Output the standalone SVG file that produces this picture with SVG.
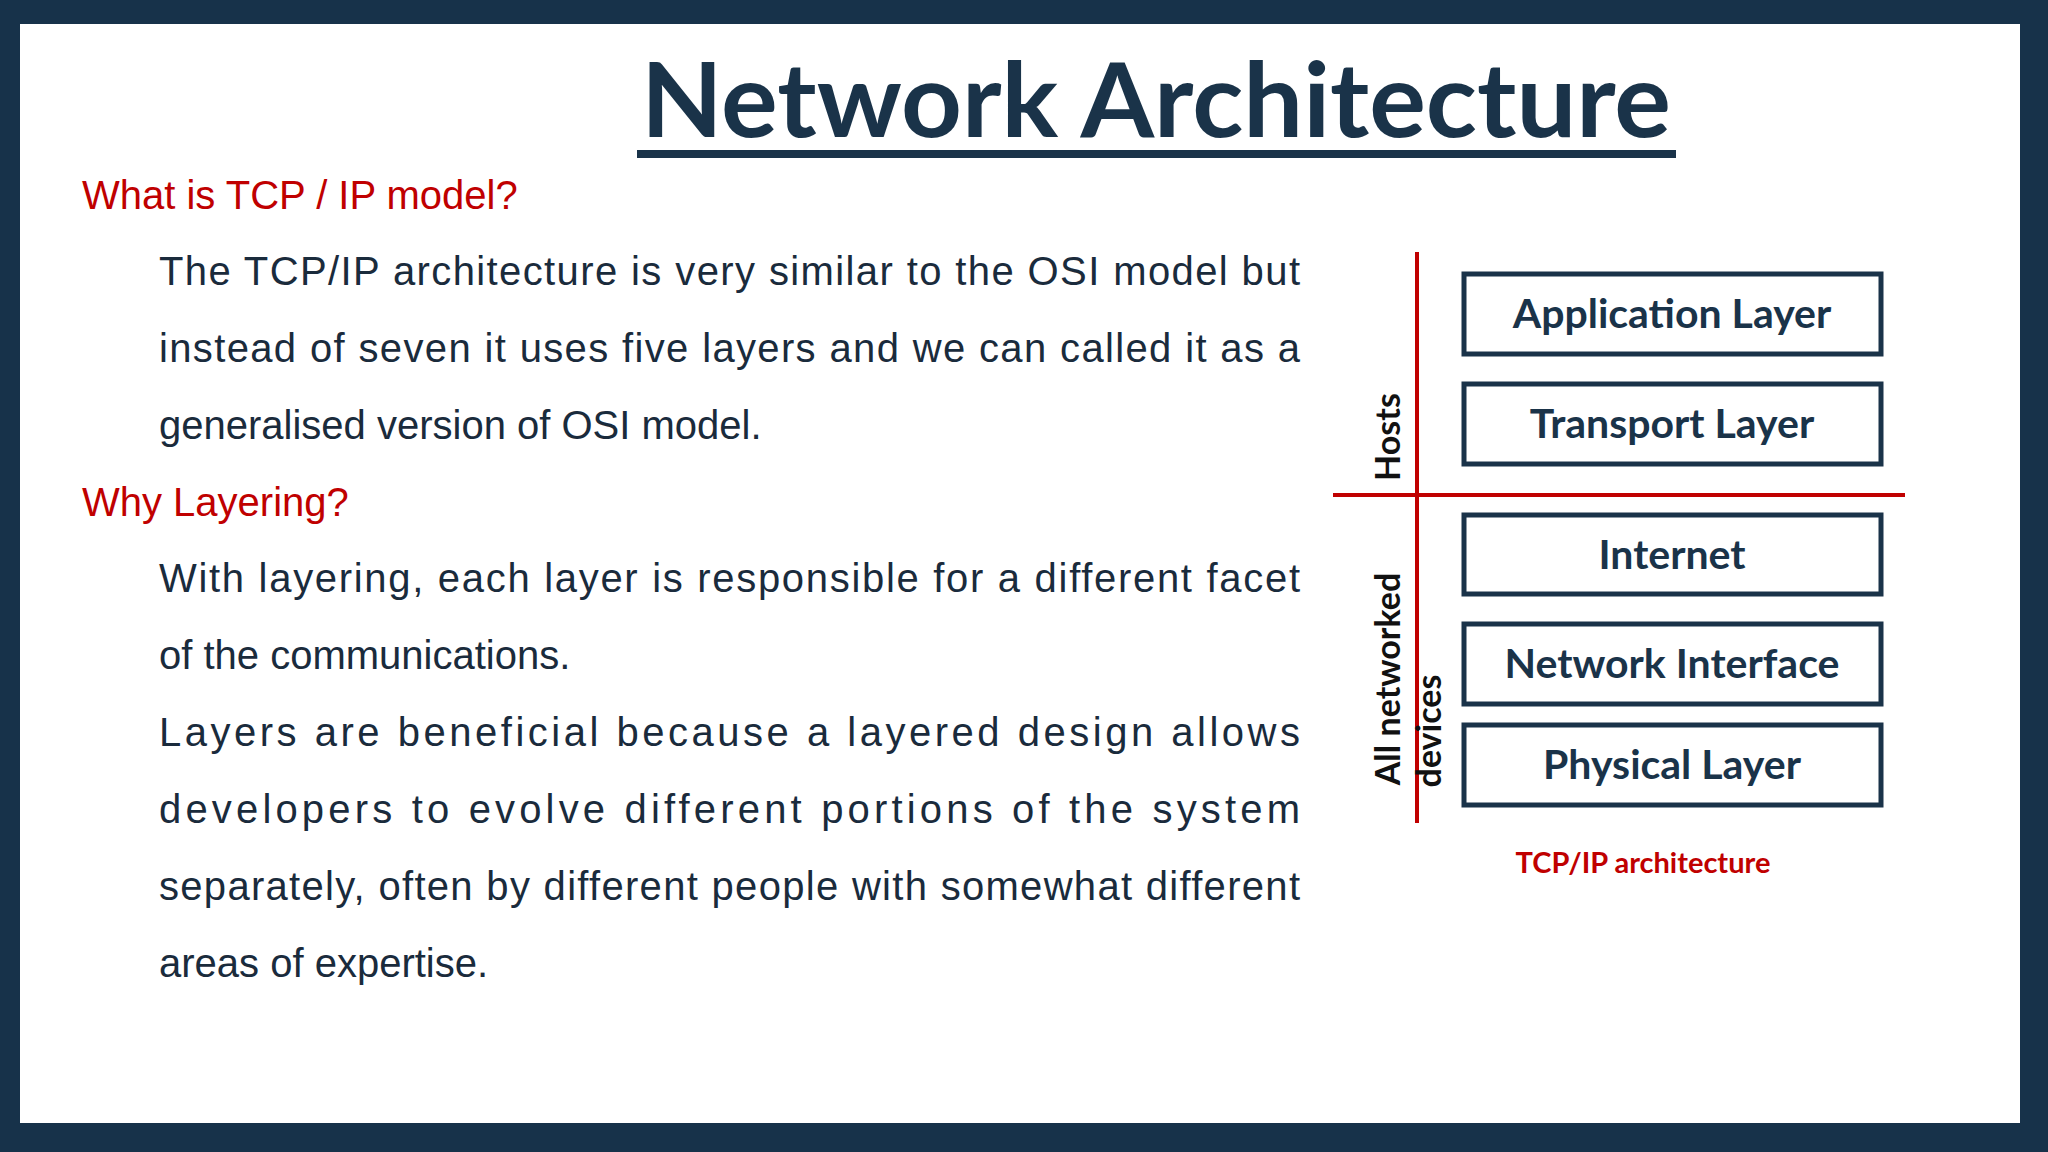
<svg xmlns="http://www.w3.org/2000/svg" width="2048" height="1152" viewBox="0 0 2048 1152">
<style>
.h{font-family:"Liberation Sans",Arial,sans-serif;font-size:40px;fill:#c00000}
.b{font-family:"Liberation Sans",Arial,sans-serif;font-size:40px;fill:#1a2b3c}
.box{fill:#fff;stroke:#1a3349;stroke-width:5}
.bt{font-family:Lato,"Open Sans",sans-serif;font-weight:bold;font-size:41px;fill:#1a3349;text-anchor:middle}
.side{font-family:Lato,"Open Sans",sans-serif;font-weight:bold;font-size:34px;fill:#111;text-anchor:middle}
.red{stroke:#c00000;stroke-width:4}
</style>
<rect width="2048" height="1152" fill="#17324a"/>
<rect x="20" y="24" width="2000" height="1099" fill="#fff"/>
<text x="1156" y="137" font-family="Lato,'Open Sans',sans-serif" font-weight="bold" font-size="104" fill="#1a3349" text-anchor="middle" textLength="1030" lengthAdjust="spacingAndGlyphs">Network Architecture</text>
<rect x="637" y="150" width="1039" height="8" fill="#1a3349"/>
<text class="h" x="82" y="209">What is TCP / IP  model?</text>
<text class="b" x="159" y="285" textLength="1141">The TCP/IP architecture is very similar to the OSI model but</text>
<text class="b" x="159" y="362" textLength="1141">instead of seven it uses five layers and we can called it as a</text>
<text class="b" x="159" y="439">generalised version of OSI model.</text>
<text class="h" x="82" y="516">Why Layering?</text>
<text class="b" x="159" y="592" textLength="1141">With layering, each layer is responsible for a different facet</text>
<text class="b" x="159" y="669">of the communications.</text>
<text class="b" x="159" y="746" textLength="1141">Layers are beneficial because a layered design allows</text>
<text class="b" x="159" y="823" textLength="1141">developers to evolve different portions of the system</text>
<text class="b" x="159" y="900" textLength="1141">separately, often by different people with somewhat different</text>
<text class="b" x="159" y="977">areas of expertise.</text>
<g id="connectors">
<line class="red" x1="1417" y1="252" x2="1417" y2="823"/>
<line class="red" x1="1333" y1="495" x2="1905" y2="495"/>
</g>
<g id="app"><rect class="box" x="1464" y="274" width="417" height="80"/><text class="bt" x="1672" y="328">Application Layer</text></g>
<g id="transport"><rect class="box" x="1464" y="384" width="417" height="80"/><text class="bt" x="1672" y="438">Transport Layer</text></g>
<g id="internet"><rect class="box" x="1464" y="515" width="417" height="79"/><text class="bt" x="1672" y="569">Internet</text></g>
<g id="netif"><rect class="box" x="1464" y="624" width="417" height="80"/><text class="bt" x="1672" y="678">Network Interface</text></g>
<g id="phys"><rect class="box" x="1464" y="725" width="417" height="80"/><text class="bt" x="1672" y="779">Physical Layer</text></g>
<text class="side" transform="translate(1400,437) rotate(-90)">Hosts</text>
<text class="side" transform="translate(1400,679) rotate(-90)">All networked</text>
<text class="side" transform="translate(1441,731) rotate(-90)">devices</text>
<text x="1643" y="873" font-family="Lato,'Open Sans',sans-serif" font-weight="bold" font-size="29" fill="#c00000" text-anchor="middle">TCP/IP architecture</text>
</svg>
